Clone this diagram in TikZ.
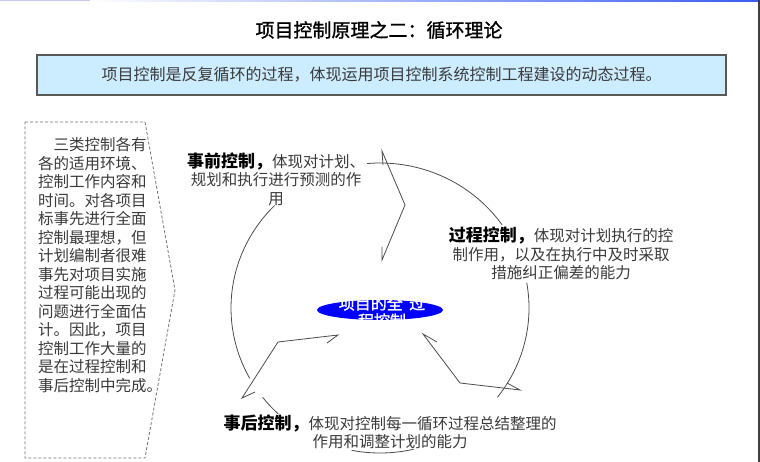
\documentclass[tikz,border=0pt]{standalone}
\usepackage{fontspec}
\setmainfont{Noto Sans CJK SC}
\newfontfamily\heavyfont{Noto Sans CJK SC}[FakeBold=1.2]
\usetikzlibrary{shapes.geometric}
\definecolor{subfill}{HTML}{CCECFF}
\definecolor{txt}{HTML}{3A3A3A}
\definecolor{ellblue}{HTML}{0000FF}
\definecolor{lav}{HTML}{C8C8F4}
\definecolor{topblue}{HTML}{3A5CF0}
\newcommand\leadword[1]{{\fontsize{17}{18.5}\selectfont\bfseries\color{black}#1}}
\begin{document}
\begin{tikzpicture}[x=1pt,y=-1pt,
  body/.style={font=\fontsize{15.5}{18.5}\selectfont, text=txt, align=center, inner sep=0pt},
  ring/.style={draw=black!70, line width=0.8pt},
  zig/.style={draw=black!70, line width=0.8pt, line join=miter},
  dashbox/.style={draw=black!55, line width=0.8pt, dash pattern=on 3pt off 2pt}]
\useasboundingbox (0,0) rectangle (760,462);
\fill[white] (0,0) rectangle (760,462);
% top strip and right edge
\fill[lav] (0,0) rectangle (90,1.5);
\shade[left color=white, right color=topblue] (90,0) rectangle (760,1.5);
\fill[black!75] (758.3,0) rectangle (760,462);

% title
\node[font=\heavyfont\fontsize{19}{22}\selectfont, text=black, inner sep=0pt] (title) at (379,30) {项目控制原理之二：循环理论};

% subtitle box
\node[draw=black!65, line width=1.5pt, fill=subfill, minimum width=689pt, minimum height=40pt,
      font=\fontsize{16}{18}\selectfont, text=txt, inner sep=0pt] (sub) at (381.5,75)
  {项目控制是反复循环的过程，体现运用项目控制系统控制工程建设的动态过程。};

% left dashed arrow box
\coordinate (p1) at (25,122);
\coordinate (p2) at (145,122);
\coordinate (p3) at (175,290);
\coordinate (p4) at (145,458);
\coordinate (p5) at (25,458);
\draw[dashbox] (p1) -- (p2) -- (p3) -- (p4) -- (p5) -- cycle;
\node[body, align=left, text width=108.5pt] (side) at (92.25,265)
  {\hspace*{1em}三类控制各有\\
   各的适用环境、\\
   控制工作内容和\\
   时间。对各项目\\
   标事先进行全面\\
   控制最理想，但\\
   计划编制者很难\\
   事先对项目实施\\
   过程可能出现的\\
   问题进行全面估\\
   计。因此，项目\\
   控制工作大量的\\
   是在过程控制和\\
   事后控制中完成。};

% cycle
\coordinate (cyc) at (380,308);
\draw[ring] (cyc) ++(-95:149 and 145) arc[start angle=-95, end angle=-35, x radius=149, y radius=145];
\draw[ring] (cyc) ++(-10:149 and 145) arc[start angle=-10, end angle=38, x radius=149, y radius=145];
\draw[ring] (cyc) ++(77:149 and 145) arc[start angle=77, end angle=101, x radius=149, y radius=145];
\draw[ring] (cyc) ++(133:149 and 145) arc[start angle=133, end angle=142, x radius=149, y radius=145];
\draw[ring] (cyc) ++(151:149 and 145) arc[start angle=151, end angle=225, x radius=149, y radius=145];

% zigzag arrows
\coordinate (a1) at (382,151);
\coordinate (a2) at (405,205);
\coordinate (a3) at (382,260);
\draw[zig] (383,165) -- (a1) -- (a2) -- (a3) -- (382,247);
\coordinate (b1) at (338,335);
\coordinate (b2) at (278,342);
\coordinate (b3) at (242,398);
\draw[zig] (327,343) -- (b1) -- (b2) -- (b3) -- (255,392);
\coordinate (c1) at (423,334);
\coordinate (c2) at (460,383);
\coordinate (c3) at (520,390);
\draw[zig] (437,342) -- (c1) -- (c2) -- (c3) -- (507,383);

% centre ellipse
\node[ellipse, fill=ellblue, minimum width=126pt, minimum height=20pt, inner sep=0pt] (ell) at (380,310) {};
\node[font=\heavyfont\fontsize{16}{17.5}\selectfont, text=white, align=center, inner sep=0pt] (elltext) at (382,312)
  {项目的全\hspace{0.4em}过\\程控制};

% labels
\node[body] (pre) at (276,179)
  {\leadword{事前控制，}体现对计划、\\规划和执行进行预测的作\\用};
\node[body] (mid) at (561,253.5)
  {\leadword{过程控制，}体现对计划执行的控\\制作用，以及在执行中及时采取\\措施纠正偏差的能力};
\node[body] (post) at (390,432)
  {\leadword{事后控制，}体现对控制每一循环过程总结整理的\\作用和调整计划的能力};
\end{tikzpicture}
\end{document}
